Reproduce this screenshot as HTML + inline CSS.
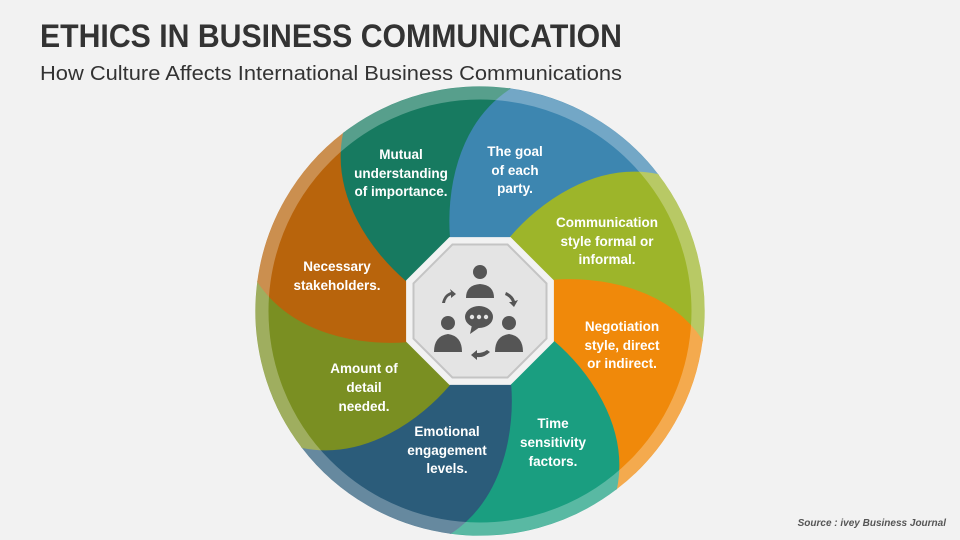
<!DOCTYPE html>
<html><head><meta charset="utf-8"><style>
html,body{margin:0;padding:0;background:#f2f2f2;width:960px;height:540px;overflow:hidden;}
svg{display:block;}
</style></head><body>
<svg width="960" height="540" viewBox="0 0 960 540" xmlns="http://www.w3.org/2000/svg">
<rect width="960" height="540" fill="#f2f2f2"/>
<text x="40" y="47" font-family="Liberation Sans, sans-serif" font-weight="bold" font-size="32" fill="#333" textLength="582" lengthAdjust="spacingAndGlyphs">ETHICS IN BUSINESS COMMUNICATION</text>
<text x="40" y="80" font-family="Liberation Sans, sans-serif" font-size="20" fill="#333" textLength="582" lengthAdjust="spacingAndGlyphs">How Culture Affects International Business Communications</text>
<text x="946" y="526" text-anchor="end" font-family="Liberation Sans, sans-serif" font-weight="bold" font-style="italic" font-size="10" fill="#555">Source : ivey Business Journal</text>
<defs>
<path id="seg" d="M449.4,237.1 C446,195 455,125 509.2,88.9 A224,224 0 0,1 657.7,174.6 C593.8,161.8 538.0,204.9 510.6,237.1 Z"/>
</defs>
<g stroke-width="1.2">
<use href="#seg" fill="#3d86b0" stroke="#3d86b0"/>
<use href="#seg" fill="#9db52a" stroke="#9db52a" transform="rotate(45 480 311)"/>
<use href="#seg" fill="#f0890a" stroke="#f0890a" transform="rotate(90 480 311)"/>
<use href="#seg" fill="#1a9e80" stroke="#1a9e80" transform="rotate(135 480 311)"/>
<use href="#seg" fill="#2b5c7a" stroke="#2b5c7a" transform="rotate(180 480 311)"/>
<use href="#seg" fill="#7a8f22" stroke="#7a8f22" transform="rotate(225 480 311)"/>
<use href="#seg" fill="#b8640c" stroke="#b8640c" transform="rotate(270 480 311)"/>
<use href="#seg" fill="#177a60" stroke="#177a60" transform="rotate(315 480 311)"/>
</g>
<circle cx="480" cy="311" r="218" fill="none" stroke="#fff" stroke-width="13" opacity="0.28"/>
<polygon points="553.9,341.6 510.6,384.9 449.4,384.9 406.1,341.6 406.1,280.4 449.4,237.1 510.6,237.1 553.9,280.4" fill="#f2f2f2"/>
<polygon points="546.5,338.6 507.6,377.5 452.4,377.5 413.5,338.6 413.5,283.4 452.4,244.5 507.6,244.5 546.5,283.4" fill="#e4e4e4" stroke="#c4c4c4" stroke-width="2"/>
<g fill="#555">
<circle cx="480" cy="272" r="7"/>
<path d="M466,298 Q466,285 480,284 Q494,285 494,298 Z"/>
<circle cx="448" cy="323" r="7"/>
<path d="M434,352 Q434,336 448,334 Q462,336 462,352 Z"/>
<circle cx="509" cy="323" r="7"/>
<path d="M495,352 Q495,336 509,334 Q523,336 523,352 Z"/>
<ellipse cx="479" cy="317" rx="14" ry="11"/>
<path d="M472,325 L470,334 L480,327 Z"/>
<path d="M442,303 Q444,294 451,292 L450,289 L456,294 L451,298 L451,295 Q446,297 445,303 Z"/>
<path d="M506,292 Q513,295 515,301 L518,300 L514,307 L509,302 L512,302 Q510,297 505,295 Z"/>
<path d="M490,352 Q484,358 477,357 L477,360 L471,355 L477,350 L477,353 Q483,353 487,350 Z"/>
</g>
<g fill="#e4e4e4"><circle cx="472" cy="317" r="2.2"/><circle cx="479" cy="317" r="2.2"/><circle cx="486" cy="317" r="2.2"/></g>
<g font-family="Liberation Sans, sans-serif" font-size="13.5" font-weight="bold" fill="#fff" text-anchor="middle">
<text x="401" y="159">Mutual</text><text x="401" y="178">understanding</text><text x="401" y="196">of importance.</text>
<text x="515" y="156">The goal</text><text x="515" y="175">of each</text><text x="515" y="193">party.</text>
<text x="607" y="227">Communication</text><text x="607" y="246">style formal or</text><text x="607" y="264">informal.</text>
<text x="622" y="331">Negotiation</text><text x="622" y="350">style, direct</text><text x="622" y="368">or indirect.</text>
<text x="553" y="428">Time</text><text x="553" y="447">sensitivity</text><text x="553" y="466">factors.</text>
<text x="447" y="436">Emotional</text><text x="447" y="455">engagement</text><text x="447" y="473">levels.</text>
<text x="364" y="373">Amount of</text><text x="364" y="392">detail</text><text x="364" y="411">needed.</text>
<text x="337" y="271">Necessary</text><text x="337" y="290">stakeholders.</text>
</g>
</svg>
</body></html>
